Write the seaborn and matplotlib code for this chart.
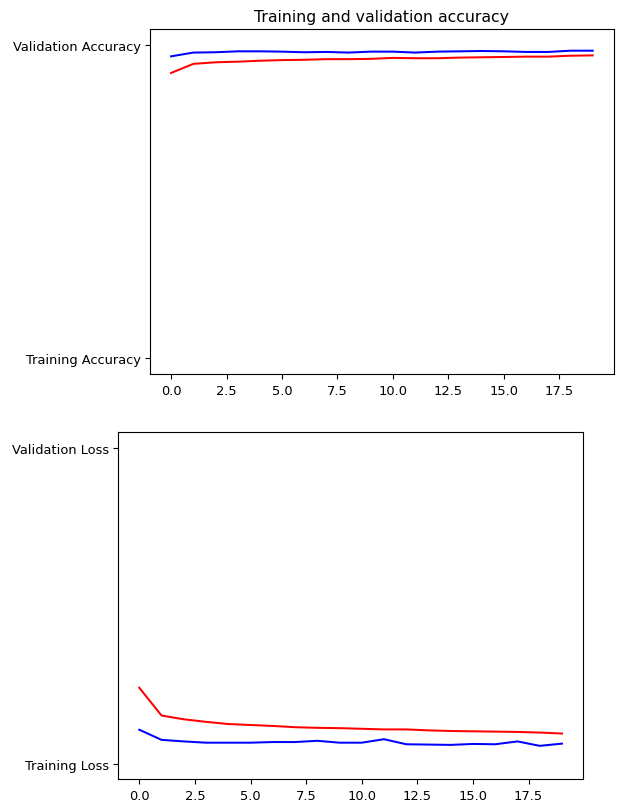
import numpy as np
import seaborn as sns
import matplotlib.pyplot as plt

epochs = list(range(20))

acc = [0.910, 0.939, 0.944, 0.946, 0.949, 0.951, 0.952, 0.954, 0.954, 0.955,
       0.958, 0.957, 0.957, 0.959, 0.960, 0.961, 0.962, 0.962, 0.965, 0.966]
val_acc = [0.963, 0.975, 0.976, 0.979, 0.979, 0.978, 0.976, 0.977, 0.975, 0.978,
           0.978, 0.975, 0.978, 0.979, 0.980, 0.979, 0.977, 0.977, 0.981, 0.981]

loss = [0.240, 0.152, 0.140, 0.132, 0.125, 0.122, 0.119, 0.115, 0.113, 0.112,
        0.110, 0.108, 0.108, 0.105, 0.103, 0.102, 0.101, 0.100, 0.098, 0.095]
val_loss = [0.107, 0.075, 0.070, 0.066, 0.066, 0.066, 0.068, 0.068, 0.072, 0.066,
            0.066, 0.077, 0.061, 0.060, 0.059, 0.062, 0.061, 0.070, 0.056, 0.063]

acc_labels = ['Training Accuracy', 'Validation Accuracy']
loss_labels = ['Training Loss', 'Validation Loss']

# original looks like a slightly downscaled default figure
plt.rcParams['font.size'] = 9.4
plt.rcParams['axes.titlesize'] = 11.3
plt.rcParams['lines.linewidth'] = 1.45
plt.rcParams['xtick.major.size'] = 3.3
plt.rcParams['ytick.major.size'] = 3.3

fig = plt.figure(figsize=(6.25, 8.12), dpi=100)
ax1 = fig.add_axes([0.240, 0.538, 0.742, 0.425])
ax2 = fig.add_axes([0.189, 0.039, 0.744, 0.428])

sns.lineplot(x=epochs, y=acc, color='red', ax=ax1)
sns.lineplot(x=epochs, y=val_acc, color='blue', ax=ax1)
ax1.set_title('Training and validation accuracy')
ax1.set_ylim(-0.05, 1.05)
ax1.set_yticks([0, 1])
ax1.set_yticklabels(acc_labels)

sns.lineplot(x=epochs, y=loss, color='red', ax=ax2)
sns.lineplot(x=epochs, y=val_loss, color='blue', ax=ax2)
ax2.set_ylim(-0.05, 1.05)
ax2.set_yticks([0, 1])
ax2.set_yticklabels(loss_labels)

for ax in (ax1, ax2):
    ax.set_xlim(-0.95, 19.95)
    ax.set_xticks([0, 2.5, 5, 7.5, 10, 12.5, 15, 17.5])

plt.savefig('out.png', dpi=100)
